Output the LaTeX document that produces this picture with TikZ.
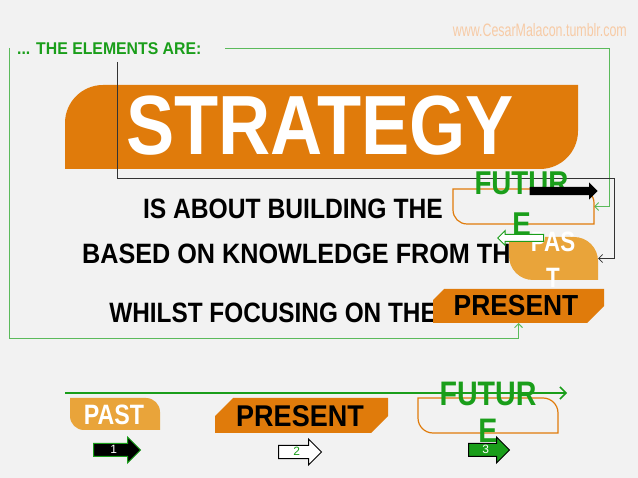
\documentclass[tikz,border=0pt]{standalone}
\usepackage{fontspec}
\setmainfont{Liberation Sans}
\usetikzlibrary{shapes.arrows,arrows.meta,calc}

\definecolor{bggray}{HTML}{F2F2F2}
\definecolor{deeporange}{HTML}{E07B0B}
\definecolor{paleorange}{HTML}{E9A43A}
\definecolor{textgreen}{HTML}{1A9E1A}
\definecolor{linegreen}{HTML}{5BBA5B}
\definecolor{webpeach}{HTML}{F7CBA6}

\newcommand\squeeze[2]{\scalebox{#1}[1]{#2}}
% round NE and SW corners
\newcommand\tabshape[3]{\path[#3] (#1.north west) -- ($(#1.north east)+(-#2,0)$) .. controls ($(#1.north east)+(-0.448*#2,0)$) and ($(#1.north east)+(0,0.448*#2)$) .. ($(#1.north east)+(0,#2)$) -- (#1.south east) -- ($(#1.south west)+(#2,0)$) .. controls ($(#1.south west)+(0.448*#2,0)$) and ($(#1.south west)+(0,-0.448*#2)$) .. ($(#1.south west)+(0,-#2)$) -- cycle;}
% round NW and SE corners
\newcommand\leafshape[3]{\path[#3] ($(#1.north west)+(#2,0)$) -- (#1.north east) -- ($(#1.south east)+(0,-#2)$) .. controls ($(#1.south east)+(0,-0.448*#2)$) and ($(#1.south east)+(-0.448*#2,0)$) .. ($(#1.south east)+(-#2,0)$) -- (#1.south west) -- ($(#1.north west)+(0,#2)$) .. controls ($(#1.north west)+(0,0.448*#2)$) and ($(#1.north west)+(0.448*#2,0)$) .. ($(#1.north west)+(#2,0)$) -- cycle;}
% cut NW and SE corners
\newcommand\snipshape[4]{\path[#4] ($(#1.north west)+(#2,0)$) -- (#1.north east) -- ($(#1.south east)+(0,-#3)$) -- ($(#1.south east)+(-#3,0)$) -- (#1.south west) -- ($(#1.north west)+(0,#2)$) -- cycle;}

\begin{document}
\begin{tikzpicture}[x=1pt,y=-1pt,
  comic/.style={font=\fontsize{#1}{#1}\selectfont\bfseries, inner sep=0pt},
  area/.style={inner sep=0pt, outer sep=0pt, draw=none},
  gline/.style={linegreen, line width=0.9pt, -{Straight Barb[length=4pt,width=8pt]}},
  bline/.style={black!80, line width=0.8pt, -{Straight Barb[length=4pt,width=8pt]}},
  numarrow/.style={single arrow, single arrow head extend=6.5pt, inner xsep=2pt, inner ysep=1.5pt,
    text height=8pt, text depth=1pt, font=\fontsize{12}{12}\selectfont, line width=1pt, anchor=west}]

\path[use as bounding box, fill=bggray] (0,0) rectangle (638,478);

\node[anchor=east, inner sep=0pt, text=webpeach, font=\fontsize{18}{18}\selectfont] (web) at (627,30) {\squeeze{0.69}{www.CesarMalacon.tumblr.com}};
\node[comic=17, anchor=west, text=textgreen] (elem) at (17,48.5) {\squeeze{0.93}{... THE ELEMENTS ARE:}};

% boxes
\node[area, minimum width=513, minimum height=84] (stratbox) at (321.5,127) {};
\node[area, minimum width=141, minimum height=35] (futbox) at (523.5,206.5) {};
\node[area, minimum width=89, minimum height=43] (pastbox) at (553.5,258.5) {};
\node[area, minimum width=171, minimum height=34] (presbox) at (518.5,306) {};

\leafshape{stratbox}{38}{fill=deeporange}
\node[comic=84, text=white] (strat) at (320,126) {\squeeze{0.86}{STRATEGY}};

\draw[gline] (225,48) -- (609,48) |- (futbox.east);
\draw[gline] (9,48) |- (presbox.south |- 0,338) -- (presbox.south);
\draw[bline] (117,62) |- (614,178) |- (pastbox.east);

\node[comic=28, anchor=east] (line1) at (443,209) {\squeeze{0.88}{IS ABOUT BUILDING THE}};
\node[comic=28, anchor=west] (line2) at (82,254) {\squeeze{0.9}{BASED ON KNOWLEDGE FROM TH}};
\node[comic=28, anchor=east] (line3) at (437,313) {\squeeze{0.87}{WHILST FOCUSING ON THE}};

\tabshape{futbox}{14}{draw=deeporange, line width=1.2pt}
\tabshape{pastbox}{24}{fill=paleorange}
\snipshape{presbox}{11}{17}{fill=deeporange}

\node[comic=33, text=textgreen, align=center, font=\fontsize{33}{41}\selectfont\bfseries] (futtext) at (521.5,203.5) {\squeeze{0.84}{FUTUR}\\\squeeze{0.84}{E}};
\node[comic=28, text=white, align=center, font=\fontsize{28}{36}\selectfont\bfseries] (pastext) at (553,260) {\squeeze{0.8}{PAS}\\\squeeze{0.8}{T}};
\node[comic=29] (prestext) at (516,306) {\squeeze{0.91}{PRESENT}};

\node[single arrow, shape border rotate=180, anchor=tip, fill=white, draw=textgreen, line width=1pt,
  minimum height=46, minimum width=14, single arrow head extend=4pt, inner sep=3pt, text height=0pt, text depth=0pt] (backarrow) at (497,238) {};
\node[single arrow, anchor=tip, fill=black, minimum height=68, minimum width=17,
  single arrow head extend=4.5pt, inner sep=4pt, text height=0pt, text depth=0pt] (fwdarrow) at (598,191) {};

% time line
\coordinate (tlstart) at (65,393);
\coordinate (tlend) at (567,393);
\draw[textgreen, line width=2.5pt, -{Straight Barb[length=6pt,width=12pt,line width=1.5pt]}] (tlstart) -- (tlend);

\node[area, minimum width=90, minimum height=32] (pastbtm) at (115,414) {};
\node[area, minimum width=173, minimum height=35] (presbtm) at (301.5,415.5) {};
\node[area, minimum width=140, minimum height=35] (futbtm) at (488,415.5) {};

\tabshape{pastbtm}{14}{fill=paleorange}
\snipshape{presbtm}{18}{17}{fill=deeporange}
\tabshape{futbtm}{15}{draw=deeporange, line width=1.2pt}

\node[comic=28, text=white] (pastlbl) at (114,415) {\squeeze{0.83}{PAST}};
\node[comic=30] (preslbl) at (300,416) {\squeeze{0.9}{PRESENT}};
\node[comic=34, text=textgreen, align=center, font=\fontsize{34}{37}\selectfont\bfseries] (futlbl) at (488,412) {\squeeze{0.84}{FUTUR}\\\squeeze{0.84}{E}};

\node[numarrow, fill=black, draw=textgreen, text=white, minimum height=47] (num1) at (93,450) {1};
\node[numarrow, fill=white, draw=black, text=textgreen, minimum height=43] (num2) at (278,452) {2};
\node[numarrow, fill=textgreen, draw=black, text=white, minimum height=41] (num3) at (468,450) {3};
\end{tikzpicture}
\end{document}
